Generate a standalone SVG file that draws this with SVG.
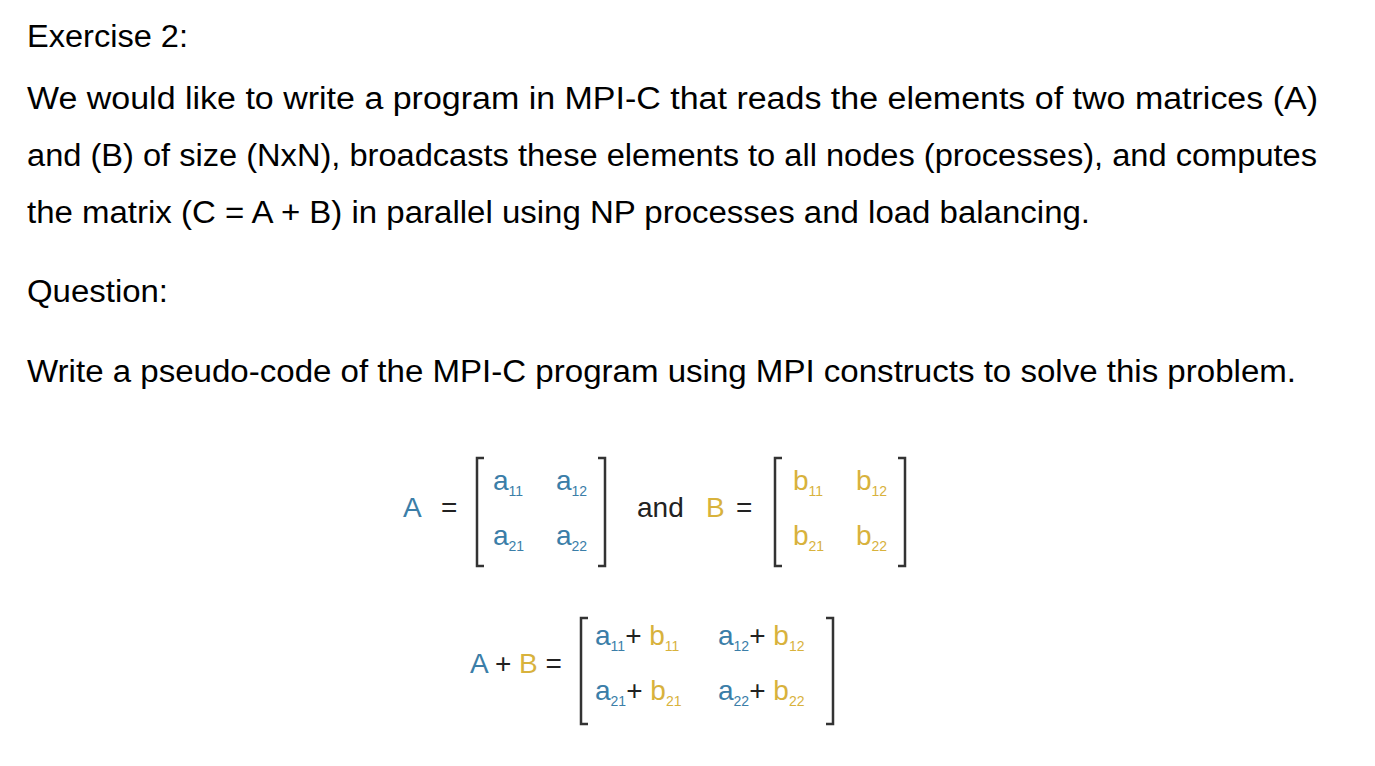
<svg xmlns="http://www.w3.org/2000/svg" width="1375" height="766" viewBox="0 0 1375 766">
<style>
.t{font-family:"Liberation Sans",Arial,sans-serif;font-size:31px;fill:#000}
.m{font-family:"Liberation Sans",Arial,sans-serif;font-size:28px}
.s{font-size:14px}
.a{fill:#3b7ea8}.b{fill:#d8b23c}.k{fill:#222}
.br{fill:none;stroke:#333;stroke-width:2.5}
</style>
<rect width="1375" height="766" fill="#fff"/>
<g id="text">
<text class="t" x="27" y="47" textLength="161" lengthAdjust="spacingAndGlyphs">Exercise 2:</text>
<text class="t" x="27" y="109" textLength="1291" lengthAdjust="spacingAndGlyphs">We would like to write a program in MPI-C that reads the elements of two matrices (A)</text>
<text class="t" x="27" y="166" textLength="1290" lengthAdjust="spacingAndGlyphs">and (B) of size (NxN), broadcasts these elements to all nodes (processes), and computes</text>
<text class="t" x="27" y="223" textLength="1063" lengthAdjust="spacingAndGlyphs">the matrix (C = A + B) in parallel using NP processes and load balancing.</text>
<text class="t" x="27" y="302" textLength="141" lengthAdjust="spacingAndGlyphs">Question:</text>
<text class="t" x="27" y="382" textLength="1269" lengthAdjust="spacingAndGlyphs">Write a pseudo-code of the MPI-C program using MPI constructs to solve this problem.</text>
</g>
<g id="matrices" class="m">
<text class="a" x="403" y="517">A</text><text class="k" x="441" y="517">=</text>
<path class="br" d="M484,458 H477 V566 H484 M598,458 H605 V566 H598"/>
<text class="a" x="493" y="490">a<tspan class="s" dy="6">11</tspan></text>
<text class="a" x="556" y="490">a<tspan class="s" dy="6">12</tspan></text>
<text class="a" x="493" y="545">a<tspan class="s" dy="6">21</tspan></text>
<text class="a" x="556" y="545">a<tspan class="s" dy="6">22</tspan></text>
<text class="k" x="637" y="517">and</text>
<text class="b" x="706" y="517">B</text><text class="k" x="736" y="517">=</text>
<path class="br" d="M782,458 H775 V566 H782 M898,458 H905 V566 H898"/>
<text class="b" x="793" y="490">b<tspan class="s" dy="6">11</tspan></text>
<text class="b" x="856" y="490">b<tspan class="s" dy="6">12</tspan></text>
<text class="b" x="793" y="545">b<tspan class="s" dy="6">21</tspan></text>
<text class="b" x="856" y="545">b<tspan class="s" dy="6">22</tspan></text>
<text x="470" y="673"><tspan class="a">A</tspan><tspan class="k"> + </tspan><tspan class="b">B</tspan><tspan class="k"> =</tspan></text>
<path class="br" d="M588,618 H581 V724 H588 M826,618 H833 V724 H826"/>
<text x="595" y="645"><tspan class="a">a</tspan><tspan class="a s" dy="6">11</tspan><tspan class="k" dy="-6">+ </tspan><tspan class="b">b</tspan><tspan class="b s" dy="6">11</tspan></text>
<text x="718" y="645"><tspan class="a">a</tspan><tspan class="a s" dy="6">12</tspan><tspan class="k" dy="-6">+ </tspan><tspan class="b">b</tspan><tspan class="b s" dy="6">12</tspan></text>
<text x="595" y="700"><tspan class="a">a</tspan><tspan class="a s" dy="6">21</tspan><tspan class="k" dy="-6">+ </tspan><tspan class="b">b</tspan><tspan class="b s" dy="6">21</tspan></text>
<text x="718" y="700"><tspan class="a">a</tspan><tspan class="a s" dy="6">22</tspan><tspan class="k" dy="-6">+ </tspan><tspan class="b">b</tspan><tspan class="b s" dy="6">22</tspan></text>
</g>
</svg>
